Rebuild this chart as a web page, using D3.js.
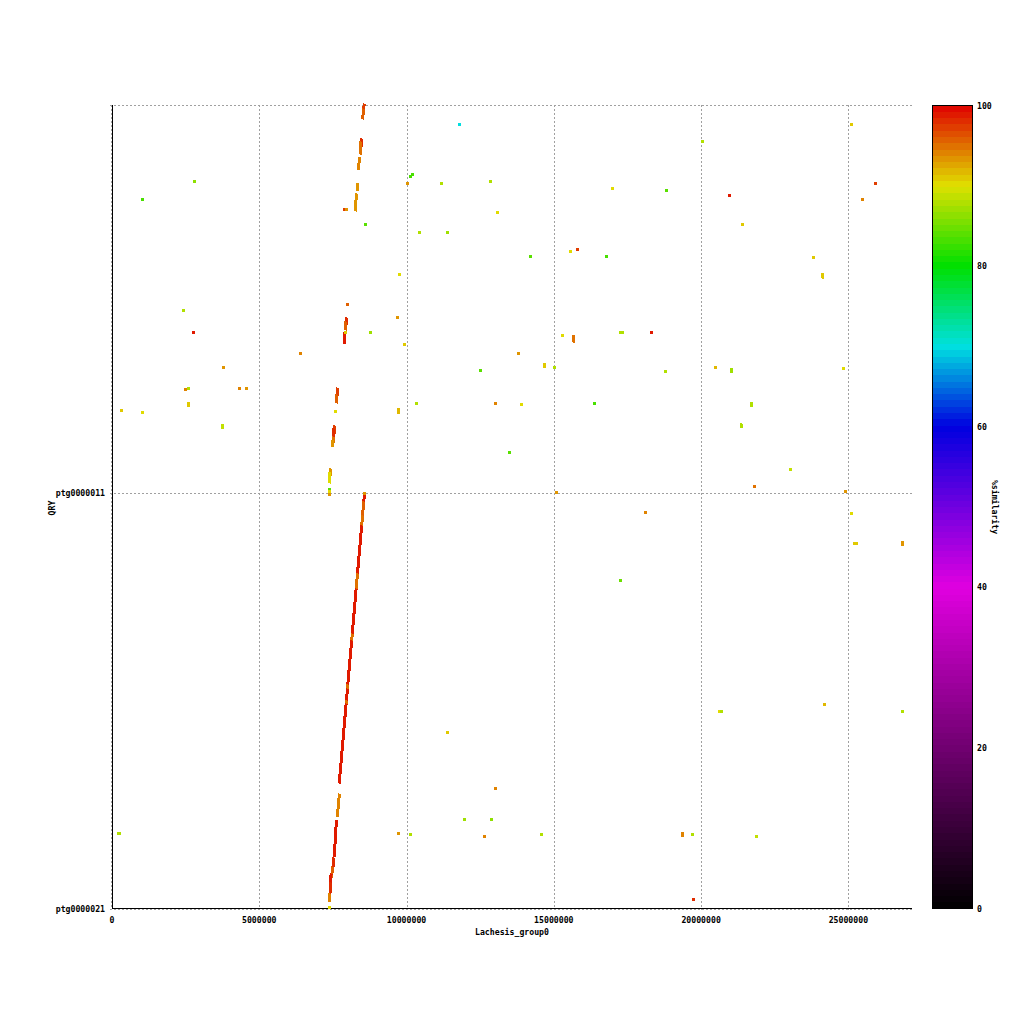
<!DOCTYPE html>
<html><head><meta charset="utf-8">
<script src="https://cdn.jsdelivr.net/npm/d3@7"></script>
<style>body{margin:0;background:#fff}svg{display:block}</style>
</head><body>
<svg id="chart" width="1024" height="1024"></svg>
<script>
// ---------------- data ----------------
const refName = "Lachesis_group0";
const refLength = 27160000;
const queryLabel = "QRY";
const queryContigs = ["ptg0000021", "ptg0000011"];
const queryLengths = [1170600, 1094400];
const xTicks = [0, 5000000, 10000000, 15000000, 20000000, 25000000];
const colorTicks = [0, 20, 40, 60, 80, 100];
const colorLabel = "%similarity";
const paletteStops = [0, 40, 60, 70, 80, 90, 100];
const paletteColors = ["#000000", "#e000e0", "#0000e0", "#00e0e0", "#00e000", "#e0e000", "#e00000"];

// [refStart, refEnd, qryStart, qryEnd, %identity]  (query in concatenated coordinates)
const alignments = [
  [8543000, 8567000, 1142400, 1164900, 99],
  [8502000, 8543000, 1102900, 1142400, 96],
  [8472000, 8502000, 1074700, 1102900, 95],
  [8330000, 8472000, 939300, 1074700, 99],
  [8285000, 8330000, 897000, 939300, 95],
  [8153000, 8285000, 770000, 897000, 99],
  [8132000, 8153000, 750300, 770000, 95],
  [8000000, 8132000, 626200, 750300, 99],
  [7990000, 8000000, 614900, 626200, 95],
  [7953000, 7990000, 581100, 614900, 99],
  [7945000, 7953000, 572600, 581100, 95],
  [7718000, 7945000, 355400, 572600, 99],
  [7650000, 7718000, 260400, 318700, 94],
  [7548000, 7616000, 147500, 243400, 99],
  [7512000, 7518000, 119300, 138200, 98],
  [7463000, 7480000, 88300, 112800, 96],
  [7419000, 7436000, 64900, 93100, 99],
  [7396000, 7413000, 30200, 67700, 98],
  [7380000, 7386000, 20600, 36700, 94],
  [8554000, 8557000, 2256000, 2265000, 97],
  [8516000, 8533000, 2228400, 2250900, 96],
  [8466000, 8472000, 2152200, 2166300, 98],
  [8433000, 8450000, 2129600, 2157800, 95],
  [8370000, 8397000, 2086400, 2113400, 94],
  [8326000, 8329000, 2025300, 2039400, 93],
  [8261000, 8295000, 1968900, 2011200, 93],
  [7946000, 7956000, 1647300, 1661400, 98],
  [7919000, 7929000, 1633200, 1650100, 96],
  [7886000, 7889000, 1593700, 1619100, 99],
  [7640000, 7650000, 1447000, 1463900, 97],
  [7610000, 7616000, 1427300, 1444200, 96],
  [7541000, 7548000, 1342700, 1356800, 97],
  [7505000, 7515000, 1328600, 1348300, 98],
  [7505000, 7512000, 1314500, 1325700, 95],
  [7481000, 7482000, 1303200, 1314500, 93],
  [7403000, 7413000, 1221400, 1235500, 93],
  [7385000, 7392000, 1201600, 1224200, 90],
  [2591000, 2592000, 1416800, 1422500, 91],
  [3745000, 3746000, 1354100, 1361100, 89],
  [9722000, 9723000, 1399000, 1406000, 92],
  [24119000, 24120000, 1779800, 1786800, 91],
  [15664000, 15665000, 1599300, 1610600, 95],
  [14679000, 14680000, 1528000, 1533600, 91],
  [21029000, 21030000, 1512700, 1518400, 87],
  [21708000, 21709000, 1416800, 1422500, 88],
  [21368000, 21369000, 1356800, 1362400, 88],
  [26835000, 26836000, 1024700, 1030400, 93],
  [19365000, 19366000, 203600, 209600, 94]
];

// short hits: [refPos, qryPos, %identity]
const shortHits = [
  [7886000, 1968900, 97], [7954000, 1968900, 93], [7990000, 1702300, 96],
  [7922000, 1621900, 91], [7582000, 1401000, 90], [7385000, 1180500, 84],
  [7385000, 1174800, 90], [7385000, 1166300, 93], [8567000, 1168500, 93],
  [7379000, 2000, 90],
  [11793000, 2210600, 70], [2795000, 2049800, 86], [1029000, 1999000, 83],
  [10143000, 2062700, 83], [10197000, 2068300, 83], [10027000, 2043000, 93],
  [11182000, 2044200, 88], [12846000, 2049800, 88], [13083000, 1962400, 90],
  [8601000, 1928500, 84], [10435000, 1906000, 88], [11385000, 1906000, 87],
  [9755000, 1786400, 90], [2421000, 1685900, 88], [2761000, 1623900, 99],
  [9688000, 1666200, 93], [8771000, 1623900, 87], [9925000, 1590000, 91],
  [6394000, 1564600, 94], [3779000, 1525200, 93], [2489000, 1463100, 94],
  [2591000, 1465900, 88], [4323000, 1465900, 94], [4560000, 1465900, 93],
  [316000, 1403900, 91], [1029000, 1398200, 90], [10333000, 1422500, 88],
  [13015000, 1423600, 94], [12506000, 1516700, 84], [13491000, 1284300, 84],
  [25104000, 2210600, 91], [20044000, 2162600, 88], [16988000, 2030100, 90],
  [18822000, 2024400, 84], [20961000, 2010300, 99], [25919000, 2044200, 97],
  [25477000, 1999000, 94], [21402000, 1928500, 91], [15562000, 1852400, 90],
  [15800000, 1858000, 97], [14204000, 1838300, 84], [16784000, 1838300, 83],
  [23813000, 1835400, 91], [15290000, 1615400, 90], [17260000, 1624700, 88],
  [17328000, 1624700, 88], [18312000, 1623900, 99], [13796000, 1564600, 93],
  [15019000, 1525200, 88], [18788000, 1513900, 88], [20486000, 1525200, 92],
  [24832000, 1522300, 90], [13898000, 1420800, 90], [16377000, 1423600, 83],
  [23032000, 1237400, 89], [21810000, 1189500, 95], [24900000, 1175400, 93],
  [15087000, 1172600, 93],
  [204000, 210700, 88], [262000, 210700, 88], [9722000, 210700, 93],
  [10129000, 207900, 88], [11385000, 495600, 91], [11963000, 251000, 87],
  [12879000, 251000, 86], [12642000, 202200, 94], [13015000, 336500, 94],
  [18109000, 1116200, 94], [17260000, 924300, 85], [25104000, 1113300, 90],
  [25195000, 1028700, 91], [25263000, 1028700, 91], [20611000, 554800, 90],
  [20679000, 554800, 88], [24187000, 574600, 92], [26835000, 554800, 88],
  [14577000, 207900, 88], [19705000, 206800, 88], [21878000, 202200, 89],
  [19739000, 24500, 98]
];

// ---------------- drawing ----------------
const svg = d3.select("#chart");
const plot = {left: 112, right: 912, top: 105, bottom: 908};
const cbar = {left: 932, right: 972};
const font = "'DejaVu Sans Mono', monospace";
const fontSize = 8.2;
const gridColor = "#a0a0a0";

svg.append("rect").attr("width", 1024).attr("height", 1024).attr("fill", "#fff");

const qOffsets = Array.from(d3.cumsum([0, ...queryLengths]));
const totalQ = qOffsets[qOffsets.length - 1];

const x = d3.scaleLinear().domain([0, refLength]).range([plot.left, plot.right]);
const y = d3.scaleLinear().domain([0, totalQ]).range([plot.bottom, plot.top]);

const palette = d3.scaleLinear().domain(paletteStops).range(paletteColors)
  .interpolate(d3.interpolateRgb).clamp(true);
const nLevels = 128;
const levelColor = v => {
  const lvl = Math.max(0, Math.min(nLevels - 1, Math.floor(v / 100 * nLevels)));
  return palette((lvl + 0.5) / nLevels * 100);
};

// grid
const grid = svg.append("g").attr("stroke", gridColor).attr("stroke-width", 1)
  .attr("stroke-dasharray", "2,2").attr("shape-rendering", "crispEdges");
grid.selectAll("line.v").data(xTicks).join("line").attr("class", "v")
  .attr("x1", d => Math.round(x(d)) + (d === 0 ? -0.5 : 0.5))
  .attr("x2", d => Math.round(x(d)) + (d === 0 ? -0.5 : 0.5))
  .attr("y1", plot.top).attr("y2", plot.bottom + 2);
grid.selectAll("line.h").data(qOffsets).join("line").attr("class", "h")
  .attr("y1", d => Math.round(y(d)) + (d === 0 ? 1.5 : 0.5))
  .attr("y2", d => Math.round(y(d)) + (d === 0 ? 1.5 : 0.5))
  .attr("x1", plot.left - 2).attr("x2", plot.right);

// axis lines
svg.append("line").attr("x1", plot.left + 0.5).attr("x2", plot.left + 0.5)
  .attr("y1", plot.top).attr("y2", plot.bottom + 1)
  .attr("stroke", "#000").attr("shape-rendering", "crispEdges");
svg.append("line").attr("x1", plot.left).attr("x2", plot.right)
  .attr("y1", plot.bottom + 0.5).attr("y2", plot.bottom + 0.5)
  .attr("stroke", "#000").attr("shape-rendering", "crispEdges");

// alignments
const marks = svg.append("g").attr("shape-rendering", "crispEdges");
marks.selectAll("line").data(alignments).join("line")
  .attr("x1", d => x(d[0])).attr("x2", d => x(d[1]))
  .attr("y1", d => y(d[2])).attr("y2", d => y(d[3]))
  .attr("stroke", d => levelColor(d[4]))
  .attr("stroke-width", 3).attr("stroke-linecap", "square");
marks.selectAll("rect").data(shortHits).join("rect")
  .attr("x", d => Math.round(x(d[0]) - 1.5)).attr("y", d => Math.round(y(d[1]) - 1.5))
  .attr("width", 3).attr("height", 3)
  .attr("fill", d => levelColor(d[2]));

const txt = sel => sel.attr("font-family", font).attr("font-size", fontSize)
  .attr("font-weight", "bold").attr("fill", "#000");

// x tick labels
svg.append("g").selectAll("text").data(xTicks).join("text")
  .attr("x", d => x(d)).attr("y", 923).attr("text-anchor", "middle")
  .call(txt).text(d => String(d));
svg.append("text").attr("x", (plot.left + plot.right) / 2).attr("y", 935)
  .attr("text-anchor", "middle").call(txt).text(refName);

// y tick labels
svg.append("g").selectAll("text").data(queryContigs).join("text")
  .attr("x", 105).attr("y", (d, i) => y(qOffsets[i]) + 3.5)
  .attr("text-anchor", "end").call(txt).text(d => d);
svg.append("text").attr("transform", "translate(55,508) rotate(-90)")
  .attr("text-anchor", "middle").call(txt).text(queryLabel);

// colour bar
const cy = d3.scaleLinear().domain([0, 100]).range([plot.bottom, plot.top]);
const bands = d3.range(nLevels);
svg.append("g").attr("shape-rendering", "crispEdges").selectAll("rect").data(bands).join("rect")
  .attr("x", cbar.left).attr("width", cbar.right - cbar.left)
  .attr("y", d => cy((d + 1) / nLevels * 100))
  .attr("height", d => cy(d / nLevels * 100) - cy((d + 1) / nLevels * 100) + 0.6)
  .attr("fill", d => palette((d + 0.5) / nLevels * 100));
svg.append("rect").attr("x", cbar.left + 0.5).attr("y", plot.top + 0.5)
  .attr("width", cbar.right - cbar.left).attr("height", plot.bottom - plot.top)
  .attr("fill", "none").attr("stroke", "#000").attr("shape-rendering", "crispEdges");
svg.append("g").selectAll("text").data(colorTicks).join("text")
  .attr("x", 977).attr("y", d => cy(d) + 3.5).call(txt).text(d => String(d));
svg.append("text").attr("transform", "translate(992,507) rotate(90)")
  .attr("text-anchor", "middle").call(txt).text(colorLabel);
</script>
</body></html>
